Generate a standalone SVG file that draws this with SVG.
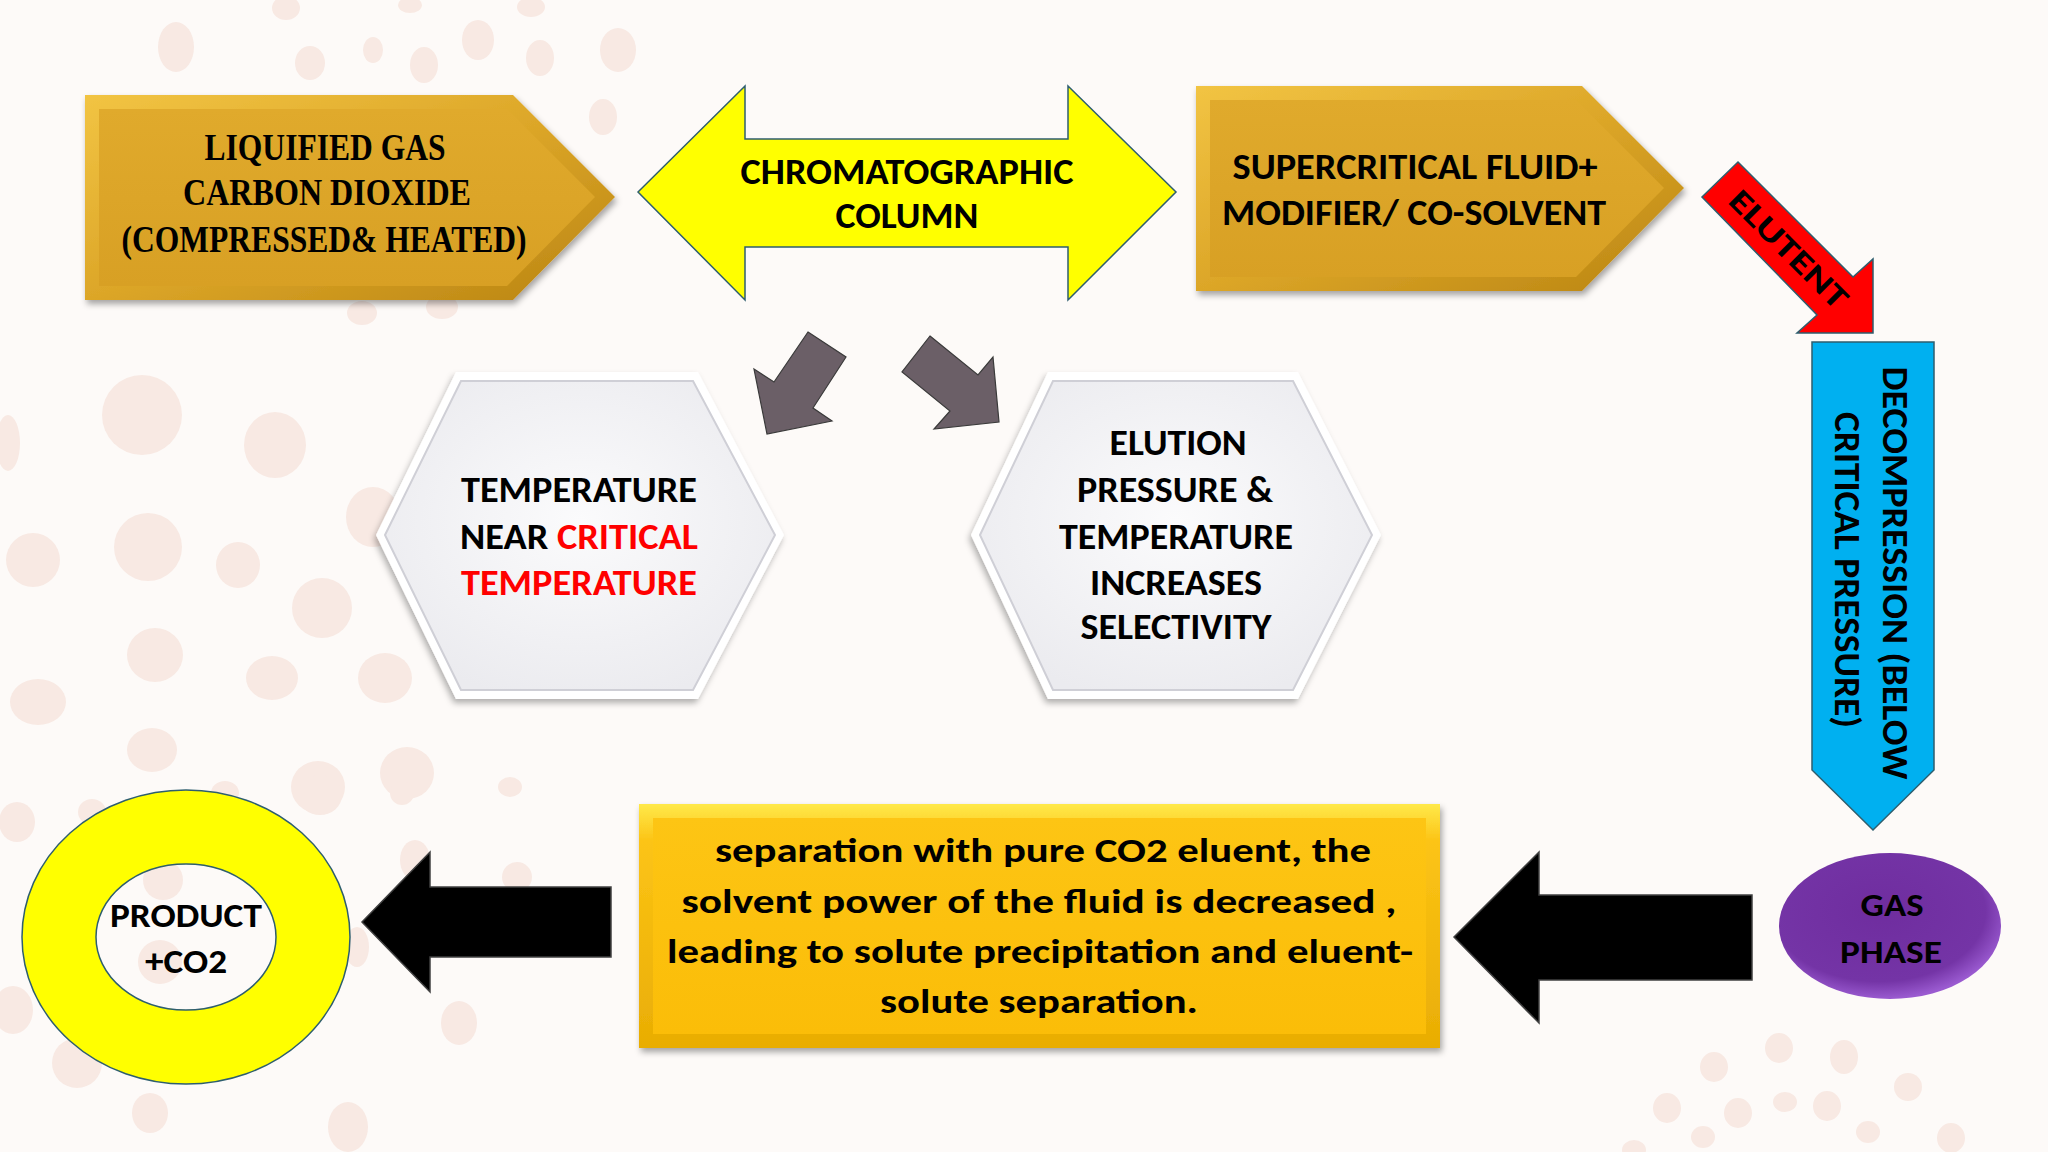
<svg xmlns="http://www.w3.org/2000/svg" width="2048" height="1152" viewBox="0 0 2048 1152">
<style>
.bg{fill:#fdfaf8}
.blob{fill:#f8e9e3}
.sans{font-family:Carlito,"Open Sans","Liberation Sans",sans-serif;font-weight:bold;fill:#000}
.serif{font-family:"Liberation Serif",serif;font-weight:bold;fill:#000}
.red{fill:#ff0000}
.mid{text-anchor:middle}
.outline{stroke:#2e5e6e;stroke-width:1.5;stroke-linejoin:miter}
.gray{fill:#6b5f67;stroke:#3a3a3a;stroke-width:1.2}
.black{fill:#000;stroke:#404040;stroke-width:1.5}
</style>
<defs>
<filter id="sh" x="-10%" y="-10%" width="130%" height="130%">
<feDropShadow dx="2" dy="4" stdDeviation="3" flood-color="#000" flood-opacity="0.35"/>
</filter>
<filter id="shs" x="-10%" y="-10%" width="130%" height="130%">
<feDropShadow dx="-2" dy="4" stdDeviation="3" flood-color="#000" flood-opacity="0.3"/>
</filter>
<linearGradient id="goldOut" x1="0" y1="0" x2="1" y2="1">
<stop offset="0" stop-color="#f2c443"/>
<stop offset="0.5" stop-color="#dca628"/>
<stop offset="1" stop-color="#b98412"/>
</linearGradient>
<linearGradient id="goldIn" x1="0" y1="0" x2="0" y2="1">
<stop offset="0" stop-color="#e0aa2c"/>
<stop offset="1" stop-color="#d8a024"/>
</linearGradient>
<linearGradient id="ylwOut" x1="0" y1="0" x2="0" y2="1">
<stop offset="0" stop-color="#ffe94a"/>
<stop offset="0.15" stop-color="#fcc416"/>
<stop offset="1" stop-color="#e9ad04"/>
</linearGradient>
<linearGradient id="ylwIn" x1="0" y1="0" x2="0" y2="1">
<stop offset="0" stop-color="#fdc514"/>
<stop offset="1" stop-color="#fbbd08"/>
</linearGradient>
<radialGradient id="hexIn" cx="0.5" cy="0.45" r="0.6">
<stop offset="0" stop-color="#fbfbfc"/>
<stop offset="1" stop-color="#ebebef"/>
</radialGradient>
<radialGradient id="purp" cx="0.45" cy="0.4" r="0.6">
<stop offset="0" stop-color="#6f2d9f"/>
<stop offset="0.8" stop-color="#7434a6"/>
<stop offset="1" stop-color="#9a5ad0"/>
</radialGradient>
</defs>

<rect class="bg" x="0" y="0" width="2048" height="1152"/>

<g id="background-dots">
<ellipse class="blob" cx="176" cy="47" rx="18" ry="25"/>
<ellipse class="blob" cx="286" cy="8" rx="14" ry="12"/>
<ellipse class="blob" cx="310" cy="63" rx="15" ry="17"/>
<ellipse class="blob" cx="373" cy="50" rx="10" ry="13"/>
<ellipse class="blob" cx="424" cy="65" rx="14" ry="18"/>
<ellipse class="blob" cx="478" cy="40" rx="16" ry="20"/>
<ellipse class="blob" cx="540" cy="58" rx="14" ry="18"/>
<ellipse class="blob" cx="618" cy="50" rx="18" ry="22"/>
<ellipse class="blob" cx="531" cy="7" rx="14" ry="10"/>
<ellipse class="blob" cx="410" cy="5" rx="12" ry="8"/>
<ellipse class="blob" cx="603" cy="117" rx="14" ry="18"/>
<ellipse class="blob" cx="362" cy="313" rx="15" ry="12"/>
<ellipse class="blob" cx="442" cy="307" rx="16" ry="12"/>
<ellipse class="blob" cx="142" cy="415" rx="40" ry="40"/>
<ellipse class="blob" cx="275" cy="445" rx="31" ry="33"/>
<ellipse class="blob" cx="8" cy="443" rx="12" ry="28"/>
<ellipse class="blob" cx="33" cy="560" rx="27" ry="27"/>
<ellipse class="blob" cx="148" cy="547" rx="34" ry="34"/>
<ellipse class="blob" cx="238" cy="565" rx="22" ry="23"/>
<ellipse class="blob" cx="322" cy="608" rx="30" ry="30"/>
<ellipse class="blob" cx="155" cy="655" rx="28" ry="27"/>
<ellipse class="blob" cx="38" cy="702" rx="28" ry="23"/>
<ellipse class="blob" cx="272" cy="678" rx="26" ry="22"/>
<ellipse class="blob" cx="385" cy="678" rx="27" ry="25"/>
<ellipse class="blob" cx="152" cy="750" rx="25" ry="22"/>
<ellipse class="blob" cx="318" cy="787" rx="27" ry="26"/>
<ellipse class="blob" cx="407" cy="773" rx="27" ry="26"/>
<ellipse class="blob" cx="373" cy="517" rx="27" ry="30"/>
<ellipse class="blob" cx="17" cy="822" rx="18" ry="20"/>
<ellipse class="blob" cx="92" cy="812" rx="14" ry="13"/>
<ellipse class="blob" cx="225" cy="793" rx="14" ry="12"/>
<ellipse class="blob" cx="320" cy="795" rx="22" ry="20"/>
<ellipse class="blob" cx="163" cy="880" rx="20" ry="20"/>
<ellipse class="blob" cx="160" cy="962" rx="22" ry="22"/>
<ellipse class="blob" cx="357" cy="947" rx="12" ry="20"/>
<ellipse class="blob" cx="13" cy="1010" rx="20" ry="24"/>
<ellipse class="blob" cx="77" cy="1063" rx="25" ry="25"/>
<ellipse class="blob" cx="150" cy="1113" rx="18" ry="20"/>
<ellipse class="blob" cx="348" cy="1127" rx="20" ry="25"/>
<ellipse class="blob" cx="459" cy="1023" rx="18" ry="22"/>
<ellipse class="blob" cx="415" cy="860" rx="15" ry="20"/>
<ellipse class="blob" cx="517" cy="877" rx="15" ry="15"/>
<ellipse class="blob" cx="402" cy="793" rx="12" ry="12"/>
<ellipse class="blob" cx="510" cy="787" rx="12" ry="10"/>
<ellipse class="blob" cx="1714" cy="1067" rx="14" ry="15"/>
<ellipse class="blob" cx="1779" cy="1048" rx="14" ry="15"/>
<ellipse class="blob" cx="1844" cy="1057" rx="14" ry="17"/>
<ellipse class="blob" cx="1908" cy="1087" rx="14" ry="14"/>
<ellipse class="blob" cx="1667" cy="1108" rx="14" ry="15"/>
<ellipse class="blob" cx="1738" cy="1113" rx="14" ry="15"/>
<ellipse class="blob" cx="1785" cy="1102" rx="12" ry="10"/>
<ellipse class="blob" cx="1827" cy="1106" rx="14" ry="15"/>
<ellipse class="blob" cx="1868" cy="1132" rx="12" ry="11"/>
<ellipse class="blob" cx="1703" cy="1137" rx="12" ry="11"/>
<ellipse class="blob" cx="1951" cy="1138" rx="14" ry="15"/>
<ellipse class="blob" cx="1634" cy="1150" rx="12" ry="10"/>
</g>

<g id="liquified-gas">
<polygon points="85,95 513,95 615,197 513,300 85,300" fill="url(#goldOut)" filter="url(#sh)"/>
<polygon points="99,109 507,109 595,197 507,286 99,286" fill="url(#goldIn)"/>
<text class="serif mid" font-size="38" x="325" y="160" textLength="241" lengthAdjust="spacingAndGlyphs">LIQUIFIED GAS</text>
<text class="serif mid" font-size="38" x="327" y="205" textLength="288" lengthAdjust="spacingAndGlyphs">CARBON DIOXIDE</text>
<text class="serif mid" font-size="38" x="324" y="252" textLength="405" lengthAdjust="spacingAndGlyphs">(COMPRESSED&amp; HEATED)</text>
</g>

<g id="chromatographic-column">
<polygon class="outline" fill="#ffff00" points="638,192 745,86 745,139 1068,139 1068,86 1176,192 1068,300 1068,247 745,247 745,300"/>
<text class="sans mid" font-size="36" x="907" y="184" textLength="333" lengthAdjust="spacingAndGlyphs">CHROMATOGRAPHIC</text>
<text class="sans mid" font-size="36" x="907" y="228" textLength="143" lengthAdjust="spacingAndGlyphs">COLUMN</text>
</g>

<g id="supercritical-fluid">
<polygon points="1196,86 1582,86 1684,188 1582,291 1196,291" fill="url(#goldOut)" filter="url(#sh)"/>
<polygon points="1210,100 1576,100 1664,188 1576,277 1210,277" fill="url(#goldIn)"/>
<text class="sans mid" font-size="36" x="1415" y="179" textLength="365" lengthAdjust="spacingAndGlyphs">SUPERCRITICAL FLUID+</text>
<text class="sans mid" font-size="36" x="1414" y="225" textLength="384" lengthAdjust="spacingAndGlyphs">MODIFIER/ CO-SOLVENT</text>
</g>

<g id="temperature-hex">
<polygon points="376,535 456,372 698,372 784,535 698,699 456,699" fill="#ffffff" filter="url(#shs)"/>
<polygon points="385,535 461,381 693,381 775,535 693,690 461,690" fill="url(#hexIn)" stroke="#cfcfd6" stroke-width="2"/>
<text class="sans mid" font-size="36" x="579" y="502" textLength="236" lengthAdjust="spacingAndGlyphs">TEMPERATURE</text>
<text class="sans mid" font-size="36" x="579" y="549" textLength="238" lengthAdjust="spacingAndGlyphs">NEAR <tspan class="red">CRITICAL</tspan></text>
<text class="sans mid red" font-size="36" x="579" y="595" textLength="236" lengthAdjust="spacingAndGlyphs">TEMPERATURE</text>
</g>

<g id="elution-hex">
<polygon points="971,535 1048,372 1298,372 1381,535 1298,699 1048,699" fill="#ffffff" filter="url(#shs)"/>
<polygon points="980,535 1053,381 1293,381 1372,535 1293,690 1053,690" fill="url(#hexIn)" stroke="#cfcfd6" stroke-width="2"/>
<text class="sans mid" font-size="36" x="1178" y="455" textLength="137" lengthAdjust="spacingAndGlyphs">ELUTION</text>
<text class="sans mid" font-size="36" x="1175" y="502" textLength="196" lengthAdjust="spacingAndGlyphs">PRESSURE &amp;</text>
<text class="sans mid" font-size="36" x="1176" y="549" textLength="234" lengthAdjust="spacingAndGlyphs">TEMPERATURE</text>
<text class="sans mid" font-size="36" x="1176" y="595" textLength="172" lengthAdjust="spacingAndGlyphs">INCREASES</text>
<text class="sans mid" font-size="36" x="1176" y="639" textLength="191" lengthAdjust="spacingAndGlyphs">SELECTIVITY</text>
</g>

<g id="decompression">
<polygon class="outline" fill="#00b0f0" points="1812,342 1934,342 1934,770 1873,830 1812,770"/>
<text class="sans mid" font-size="36" transform="translate(1883,573) rotate(90)" x="0" y="0" textLength="413" lengthAdjust="spacingAndGlyphs">DECOMPRESSION (BELOW</text>
<text class="sans mid" font-size="36" transform="translate(1835,570) rotate(90)" x="0" y="0" textLength="316" lengthAdjust="spacingAndGlyphs">CRITICAL PRESSURE)</text>
</g>

<g id="gas-phase">
<ellipse cx="1890" cy="926" rx="111" ry="73" fill="url(#purp)"/>
<text class="sans mid" font-size="32" x="1892" y="916" textLength="63" lengthAdjust="spacingAndGlyphs">GAS</text>
<text class="sans mid" font-size="32" x="1891" y="963" textLength="102" lengthAdjust="spacingAndGlyphs">PHASE</text>
</g>

<g id="separation-box">
<rect x="639" y="804" width="801" height="244" fill="url(#ylwOut)" filter="url(#sh)"/>
<rect x="653" y="818" width="773" height="216" fill="url(#ylwIn)"/>
<text class="sans mid" font-size="34" x="1043" y="862" textLength="656" lengthAdjust="spacingAndGlyphs">separation with pure CO2 eluent, the</text>
<text class="sans mid" font-size="34" x="1039" y="913" textLength="715" lengthAdjust="spacingAndGlyphs">solvent power of the fluid is  decreased ,</text>
<text class="sans mid" font-size="34" x="1040" y="963" textLength="746" lengthAdjust="spacingAndGlyphs">leading to solute precipitation and eluent-</text>
<text class="sans mid" font-size="34" x="1039" y="1013" textLength="318" lengthAdjust="spacingAndGlyphs">solute separation.</text>
</g>

<g id="product-co2">
<path d="M22,937 a164,147 0 1,0 328,0 a164,147 0 1,0 -328,0 Z M96,937 a90,73 0 1,0 180,0 a90,73 0 1,0 -180,0 Z" fill="#ffff00" fill-rule="evenodd" class="outline"/>
<text class="sans mid" font-size="34" x="186" y="927" textLength="152" lengthAdjust="spacingAndGlyphs">PRODUCT</text>
<text class="sans mid" font-size="34" x="186" y="973" textLength="82" lengthAdjust="spacingAndGlyphs">+CO2</text>
</g>

<g id="connectors">
<polygon class="gray" points="808,332 846,357 813,408 832,421 767,434 754,369 774,382"/>
<polygon class="gray" points="930,336 978,375 993,357 999,422 934,429 950,411 902,372"/>
<polygon class="outline" fill="#ff0000" points="1738,162 1853,277 1873,259 1873,333 1797,333 1817,315 1702,197"/>
<text class="sans mid" font-size="32" transform="translate(1789,249) rotate(45)" x="0" y="11" textLength="154" lengthAdjust="spacingAndGlyphs">ELUTENT</text>
<polygon class="black" points="1454,937 1539,852 1539,895 1752,895 1752,980 1539,980 1539,1023"/>
<polygon class="black" points="362,922 430,852 430,887 611,887 611,957 430,957 430,992"/>
</g>
</svg>
